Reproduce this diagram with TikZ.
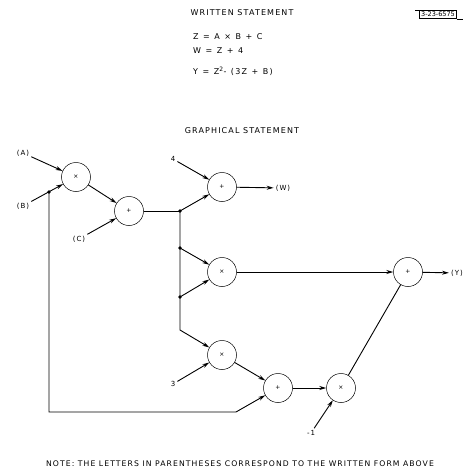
\documentclass[tikz,border=0pt]{standalone}
\usepackage{fontspec}
\setmainfont{DejaVu Sans}
\newfontfamily\lettering[LetterSpace=14]{DejaVu Sans}
\newcommand\gap{\hspace{4.5pt}}
\usetikzlibrary{arrows.meta}
\usetikzlibrary{positioning}
\tikzset{
    op/.style={
           circle,
           draw=black, line width=0.5pt,
           minimum size=29pt,
           inner sep=0pt,
           font=\fontsize{6}{6}\selectfont,
           },
    lbl/.style={
           font=\lettering\fontsize{7}{8}\selectfont,
           inner sep=2pt,
           },
    heading/.style={
           font=\lettering\fontsize{8}{9}\selectfont,
           inner sep=0pt,
           },
    eq/.style={
           font=\lettering\fontsize{8}{9}\selectfont,
           inner sep=0pt,
           anchor=west,
           },
    wire/.style={line width=0.9pt},
}

\begin{document}
\begin{tikzpicture}[>={Stealth[length=7pt,width=4pt]}, x=1pt, y=-1pt, on grid]

 % keep the page at 474 x 474
 \useasboundingbox (0,0) rectangle (474,474);

 % written statement on top
 \node[heading] (written) at (242,13) {WRITTEN STATEMENT};
 \node[draw, line width=0.6pt, inner sep=1.8pt,
  font=\fontsize{6.5}{6.5}\selectfont] (tag) at (438,14.5) {3-23-6575};
 \draw[line width=0.6pt] (tag.north west) -- ++(-4,0);
 \draw[line width=0.6pt] (tag.south east) -- ++(6,0);

 \node[eq] (eqZ) at (193,37) {Z\gap=\gap A\gap×\gap B\gap+\gap C};
 \node[eq] (eqW) at (193,51) {W\gap=\gap Z\gap+\gap 4};
 \node[eq] (eqY) at (193,71)
  {Y\gap=\gap Z\textsuperscript{2}-\gap(\,3Z\gap+\gap B\,)};

 \node[heading] (graphical) at (242,131) {GRAPHICAL STATEMENT};

 % operator circles, one placed relative to the other
 \node[op] (M1) at (76,177) {×};
 \node[op, below right=34pt and 53pt of M1] (A1) {+};
 \node[op, above right=24pt and 93pt of A1] (PW) {+};
 \node[op, below=85pt of PW] (M2) {×};
 \node[op, below=83pt of M2] (M3) {×};
 \node[op, below right=33pt and 56pt of M3] (A2) {+};
 \node[op, right=63pt of A2] (M4) {×};
 \node[op, right=186pt of M2] (PY) {+};

 % inputs and outputs
 \node[lbl] (A) at (23,153) {(A)};
 \node[lbl] (B) at (23,206) {(B)};
 \node[lbl] (C) at (79,239) {(C)};
 \node[lbl] (four) at (173,159) {4};
 \node[lbl] (three) at (173,384) {3};
 \node[lbl] (minusone) at (311,433) {-1};
 \node[lbl] (W) at (283,188) {(W)};
 \node[lbl] (Y) at (457,273) {(Y)};

 % branch points
 \coordinate (jB) at (49,192);
 \coordinate (bl) at (49,412);
 \coordinate (br) at (236,412);
 \coordinate (j1) at (180,211);
 \coordinate (j2) at (180,248);
 \coordinate (j3) at (180,297);
 \coordinate (j4) at (180,330);

 % the wires
 \draw[wire,->] (A) -- (M1);
 \draw[wire,->] (B) -- (M1);
 \draw[wire,->] (jB) -- (bl) -- (br) -- (A2);
 \draw[wire,->] (M1) -- (A1);
 \draw[wire,->] (C) -- (A1);
 \draw[wire] (A1) -- (j1);
 \draw[wire,->] (j1) -- (PW);
 \draw[wire,->] (four) -- (PW);
 \draw[wire,->] (PW) -- (W);
 \draw[wire,->] (j1) -- (j4) -- (M3);
 \draw[wire,->] (j2) -- (M2);
 \draw[wire,->] (j3) -- (M2);
 \draw[wire,->] (M2) -- (PY);
 \draw[wire,->] (PY) -- (Y);
 \draw[wire,->] (three) -- (M3);
 \draw[wire,->] (M3) -- (A2);
 \draw[wire,->] (A2) -- (M4);
 \draw[wire,->] (minusone) -- (M4);
 \draw[wire] (M4) -- (PY);

 \foreach \j in {jB,j1,j2,j3}
  \fill (\j) circle (1.8pt);

 % note at the bottom
 \node[lbl, font=\lettering\fontsize{7.7}{9}\selectfont] (note) at (240,464)
  {NOTE: THE LETTERS IN PARENTHESES CORRESPOND TO THE WRITTEN FORM ABOVE};

\end{tikzpicture}
\end{document}
